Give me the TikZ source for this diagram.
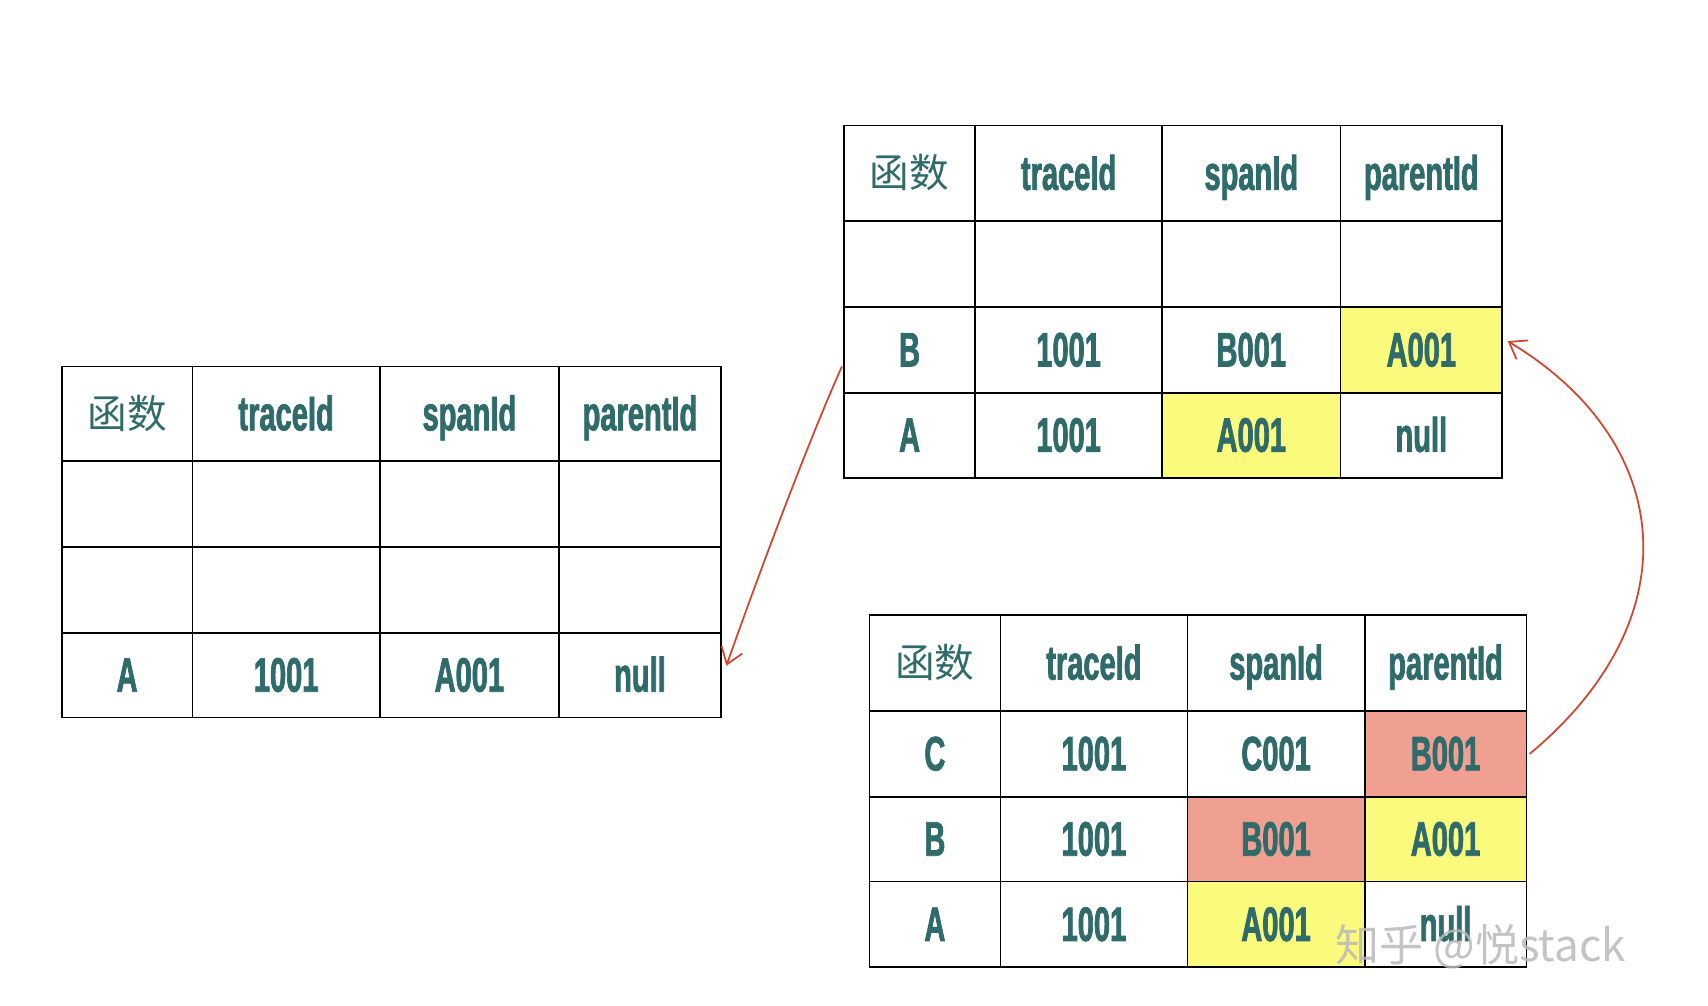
\documentclass[tikz,border=0pt]{standalone}
\usepackage{fontspec}
\newfontfamily\cond{Liberation Sans Bold}[FakeStretch=0.6,FakeBold=1.5]
\newfontfamily\cjk{Noto Sans CJK SC}
\usetikzlibrary{arrows.meta}
\definecolor{teal1}{HTML}{2F6B6B}
\definecolor{yel}{HTML}{FAFA7C}
\definecolor{sal}{HTML}{F0A091}
\definecolor{arr}{HTML}{D2452F}
\tikzset{
 cnode/.style={text=teal1,font=\cjk\fontsize{36}{36}\selectfont,anchor=base,yshift=-13pt},
 tx/.style={text=teal1,font=\cond\fontsize{44}{44}\selectfont,anchor=base,yshift=-15pt},
 red arrow/.style={draw=arr,line width=1.6pt,-{Straight Barb[length=14pt,width=20pt,line width=1.6pt]}}
}
\newcommand{\cellbox}[6]{% name, x0,y0,x1,y1, fill
  \path[draw=black,line width=1.6pt,fill=#6] (#2,#3) rectangle (#4,#5);
  \coordinate (#1) at ({(#2+#4)/2},{(#3+#5)/2});}
\begin{document}
\begin{tikzpicture}[x=1pt,y=-1pt]
\useasboundingbox (0,0) rectangle (1552,914);
\fill[white] (0,0) rectangle (1552,914);
% Top-right table
\foreach \r/\ya/\yb in {0/114/201,1/201/279,2/279/357,3/357/434}{
 \foreach \c/\xa/\xb in {0/767/886,1/886/1056,2/1056/1218,3/1218/1365}{
  \def\f{white}
  \ifnum\r\c=23 \def\f{yel}\fi
  \ifnum\r\c=32 \def\f{yel}\fi
  \cellbox{t1-\r-\c}{\xa}{\ya}{\xb}{\yb}{\f}
 }}
% Left table
\foreach \r/\ya/\yb in {0/333/419,1/419/497,2/497/575,3/575/652}{
 \foreach \c/\xa/\xb in {0/56/175,1/175/345,2/345/508,3/508/655}{
  \cellbox{t2-\r-\c}{\xa}{\ya}{\xb}{\yb}{white}
 }}
% Bottom-right table
\foreach \r/\ya/\yb in {0/559/646,1/646/724,2/724/801,3/801/879}{
 \foreach \c/\xa/\xb in {0/790/909,1/909/1079,2/1079/1240,3/1240/1387}{
  \def\f{white}
  \ifnum\r\c=13 \def\f{sal}\fi
  \ifnum\r\c=22 \def\f{sal}\fi
  \ifnum\r\c=23 \def\f{yel}\fi
  \ifnum\r\c=32 \def\f{yel}\fi
  \cellbox{t3-\r-\c}{\xa}{\ya}{\xb}{\yb}{\f}
 }}
\foreach \t in {t1,t2,t3}{
 \node[cnode] (\t-h0) at (\t-0-0) {函数};
 \node[tx] (\t-h1) at (\t-0-1) {traceId};
 \node[tx] (\t-h2) at (\t-0-2) {spanId};
 \node[tx] (\t-h3) at (\t-0-3) {parentId};
}
\node[tx] (a1) at (t1-2-0) {B}; \node[tx] (a2) at (t1-2-1) {1001};
\node[tx] (a3) at (t1-2-2) {B001}; \node[tx] (a4) at (t1-2-3) {A001};
\node[tx] (b1) at (t1-3-0) {A}; \node[tx] (b2) at (t1-3-1) {1001};
\node[tx] (b3) at (t1-3-2) {A001}; \node[tx] (b4) at (t1-3-3) {null};
\node[tx] (c1) at (t2-3-0) {A}; \node[tx] (c2) at (t2-3-1) {1001};
\node[tx] (c3) at (t2-3-2) {A001}; \node[tx] (c4) at (t2-3-3) {null};
\node[tx] (d1) at (t3-1-0) {C}; \node[tx] (d2) at (t3-1-1) {1001};
\node[tx] (d3) at (t3-1-2) {C001}; \node[tx] (d4) at (t3-1-3) {B001};
\node[tx] (e1) at (t3-2-0) {B}; \node[tx] (e2) at (t3-2-1) {1001};
\node[tx] (e3) at (t3-2-2) {B001}; \node[tx] (e4) at (t3-2-3) {A001};
\node[tx] (f1) at (t3-3-0) {A}; \node[tx] (f2) at (t3-3-1) {1001};
\node[tx] (f3) at (t3-3-2) {A001}; \node[tx] (f4) at (t3-3-3) {null};
% arrows
\coordinate (s1) at (765,333); \coordinate (e1p) at (660,605);
\draw[red arrow] (s1) .. controls (735,400) and (690,520) .. (e1p);
\coordinate (s2) at (1390,685); \coordinate (e2p) at (1370,310);
\draw[red arrow] (s2) .. controls (1540,560) and (1520,400) .. (e2p);
% watermark
\node[text=gray!55,opacity=0.85,anchor=west,font=\cjk\fontsize{40}{40}\selectfont] (wm) at (1210,860) {知乎 @悦stack};
\end{tikzpicture}
\end{document}
